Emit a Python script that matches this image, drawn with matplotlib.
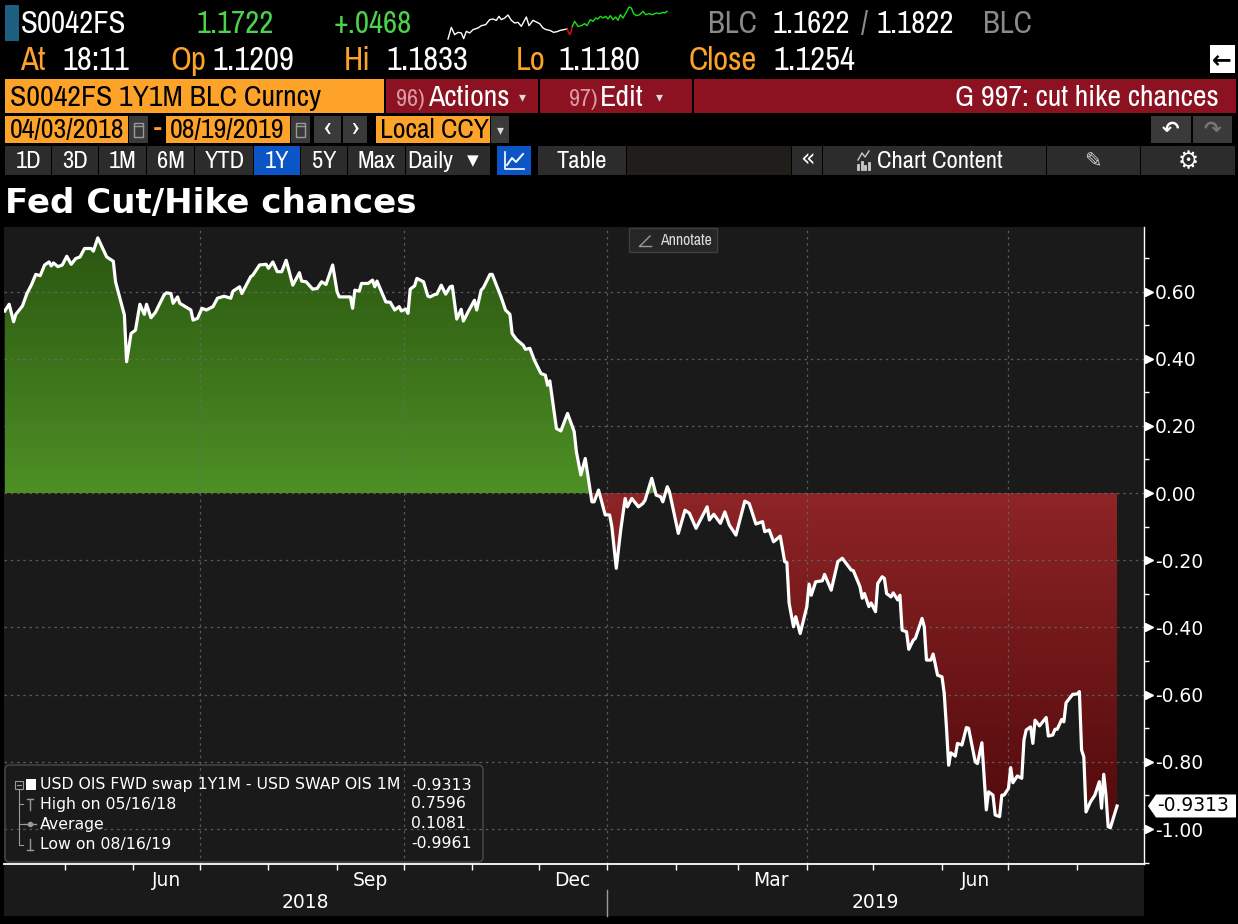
import numpy as np
import pandas as pd
import matplotlib
matplotlib.use('Agg')
import matplotlib.pyplot as plt
import matplotlib.dates as mdates
from matplotlib.patches import Rectangle, Polygon, FancyBboxPatch
from matplotlib.path import Path
from matplotlib.lines import Line2D
from matplotlib.colors import LinearSegmentedColormap
from matplotlib.ticker import MultipleLocator, FormatStrFormatter
from matplotlib.transforms import IdentityTransform, ScaledTranslation
from matplotlib import font_manager as fm

plt.rcParams['axes.unicode_minus'] = False

# ---------------- data ----------------
START = pd.Timestamp('2018-04-03')
day_offset = [1, 3, 5, 6, 9, 11, 13, 15, 17, 19, 21, 22, 23, 25, 27, 29, 31, 33, 35, 37,
              40, 41, 43, 47, 50, 51, 55, 56, 58, 60, 62, 64, 65, 67, 69, 73, 74, 76, 77, 79,
              80, 85, 86, 88, 90, 92, 95, 97, 100, 103, 104, 107, 108, 112, 113, 116, 119, 120, 122, 124,
              126, 128, 129, 131, 134, 135, 137, 140, 142, 144, 146, 149, 151, 152, 155, 157, 158, 159, 161, 162,
              165, 167, 168, 169, 173, 175, 177, 179, 180, 182, 183, 184, 186, 187, 190, 192, 193, 195, 196, 198,
              200, 202, 203, 205, 207, 208, 210, 213, 214, 216, 217, 220, 221, 225, 227, 229, 230, 232, 235, 236,
              238, 240, 243, 245, 246, 247, 250, 252, 255, 258, 259, 261, 263, 266, 267, 269, 272, 274, 275, 277,
              279, 281, 282, 284, 287, 289, 290, 293, 295, 297, 298, 300, 301, 305, 308, 310, 313, 318, 319, 321,
              324, 326, 328, 331, 335, 337, 340, 343, 344, 346, 348, 351, 353, 354, 355, 357, 358, 360, 363, 364,
              365, 367, 370, 371, 374, 377, 379, 383, 384, 387, 388, 389, 391, 392, 394, 395, 397, 398, 399, 401,
              402, 404, 405, 406, 408, 409, 411, 412, 415, 416, 417, 419, 420, 422, 424, 425, 426, 427, 428, 430,
              431, 433, 435, 436, 439, 440, 442, 444, 445, 447, 448, 450, 451, 452, 454, 455, 456, 458, 460, 461,
              462, 464, 465, 466, 468, 471, 472, 474, 475, 476, 478, 479, 480, 483, 485, 486, 487, 488, 489, 491,
              493, 495, 496, 497, 498, 499, 500, 503]
spread = [0.542, 0.562, 0.510, 0.532, 0.557, 0.594, 0.619, 0.651, 0.647, 0.679, 0.688, 0.676, 0.685, 0.674, 0.679, 0.705, 0.681, 0.698, 0.703, 0.728,
          0.728, 0.720, 0.7596, 0.703, 0.690, 0.629, 0.530, 0.391, 0.475, 0.485, 0.562, 0.532, 0.562, 0.522, 0.538, 0.591, 0.596, 0.594, 0.565, 0.584,
          0.565, 0.545, 0.515, 0.520, 0.550, 0.545, 0.555, 0.580, 0.586, 0.580, 0.601, 0.614, 0.594, 0.644, 0.649, 0.679, 0.681, 0.669, 0.688, 0.659,
          0.659, 0.693, 0.669, 0.619, 0.656, 0.631, 0.629, 0.607, 0.609, 0.629, 0.621, 0.679, 0.599, 0.584, 0.584, 0.584, 0.550, 0.604, 0.601, 0.624,
          0.624, 0.634, 0.614, 0.631, 0.569, 0.568, 0.545, 0.555, 0.542, 0.548, 0.535, 0.607, 0.617, 0.639, 0.629, 0.586, 0.584, 0.591, 0.592, 0.619,
          0.592, 0.614, 0.616, 0.518, 0.547, 0.512, 0.538, 0.574, 0.545, 0.604, 0.611, 0.651, 0.651, 0.584, 0.545, 0.532, 0.475, 0.457, 0.440, 0.428,
          0.431, 0.396, 0.356, 0.351, 0.321, 0.334, 0.192, 0.185, 0.237, 0.183, 0.123, 0.054, 0.103, -0.026, -0.026, 0.009, -0.065, -0.065, -0.100, -0.224,
          -0.110, -0.016, -0.041, -0.016, -0.041, -0.031, -0.021, 0.044, -0.006, -0.011, -0.026, 0.019, 0.004, -0.120, -0.051, -0.060, -0.105, -0.041, -0.080, -0.063,
          -0.090, -0.056, -0.095, -0.125, -0.024, -0.031, -0.092, -0.085, -0.115, -0.110, -0.145, -0.128, -0.204, -0.207, -0.328, -0.398, -0.368, -0.418, -0.338, -0.271,
          -0.304, -0.264, -0.261, -0.242, -0.289, -0.204, -0.194, -0.229, -0.231, -0.279, -0.313, -0.299, -0.338, -0.327, -0.353, -0.269, -0.249, -0.254, -0.299, -0.309,
          -0.297, -0.318, -0.304, -0.408, -0.413, -0.465, -0.438, -0.432, -0.373, -0.398, -0.497, -0.497, -0.479, -0.542, -0.547, -0.596, -0.696, -0.810, -0.773, -0.783,
          -0.745, -0.750, -0.698, -0.700, -0.800, -0.805, -0.743, -0.943, -0.889, -0.899, -0.958, -0.963, -0.899, -0.899, -0.879, -0.817, -0.862, -0.842, -0.849, -0.735,
          -0.705, -0.696, -0.745, -0.676, -0.693, -0.668, -0.723, -0.720, -0.703, -0.703, -0.674, -0.681, -0.624, -0.599, -0.598, -0.591, -0.765, -0.785, -0.949, -0.919,
          -0.899, -0.859, -0.938, -0.837, -0.899, -0.993, -0.9961, -0.9313]
average_value = 0.1081
series_name = 'USD OIS FWD swap 1Y1M - USD SWAP OIS 1M'

y_ticks = [-1.0, -0.8, -0.6, -0.4, -0.2, 0.0, 0.2, 0.4, 0.6]
month_tick_dates = ['2018-05-01', '2018-06-01', '2018-07-01', '2018-08-01', '2018-09-01', '2018-10-01',
                    '2018-11-01', '2018-12-01', '2019-01-01', '2019-02-01', '2019-03-01', '2019-04-01',
                    '2019-05-01', '2019-06-01', '2019-07-01', '2019-08-01']
quarter_grid_dates = ['2018-07-01', '2018-10-01', '2019-01-01', '2019-04-01', '2019-07-01']
month_label_dates = ['2018-06-16', '2018-09-16', '2018-12-16', '2019-03-16', '2019-06-16']
month_labels = ['Jun', 'Sep', 'Dec', 'Mar', 'Jun']
year_labels = ['2018', '2019']
year_break = '2019-01-01'
x_start, x_end = '2018-04-03 16:00', '2019-08-31 04:00'

# intraday sparkline in the header
spark_time_white = [55, 65, 75, 85, 95, 102, 110, 120, 130, 145, 155, 168, 180, 190, 200, 208, 215, 225, 235, 245,
                    255, 265, 275, 283, 290, 298, 310, 322, 330, 340, 350, 360, 372, 382, 392, 402, 412]
spark_white = [2, 37, 15, 22, 20, 3, 25, 20, 30, 35, 42, 45, 60, 62, 58, 70, 60, 65, 74, 58,
               50, 52, 40, 55, 68, 42, 58, 52, 48, 35, 30, 28, 22, 24, 28, 30, 32]
spark_time_red = [412, 420, 425, 428]
spark_red = [32, 15, 25, 40]
spark_time_green = [428, 435, 445, 455, 465, 472, 482, 490, 498, 505, 512, 520, 528, 535, 542, 550, 558, 565, 572, 580,
                    590, 598, 605, 612, 620, 630, 640, 648, 658, 668, 680, 690, 700, 705, 712]
spark_green = [40, 55, 40, 42, 48, 42, 60, 55, 65, 62, 70, 65, 70, 62, 72, 60, 68, 58, 75, 65,
               82, 98, 95, 78, 72, 75, 85, 75, 78, 75, 80, 78, 82, 80, 85]

# ---------------- fonts ----------------
W, H = 1238, 924
BASE = ['DejaVu Sans']


def find_narrow():
    best = None
    for f in fm.fontManager.ttflist:
        nm = f.name.lower()
        st = str(f.stretch).lower()
        if f.style != 'normal':
            continue
        if f.weight not in (400, 'normal', 'regular', 'book', 500):
            continue
        score = None
        if 'narrow' in nm or 'condensed' in nm:
            score = 0
        elif st in ('condensed', 'semi-condensed', 'extra-condensed'):
            score = 1
        if score is not None and 'bold' not in f.fname.lower() and 'italic' not in f.fname.lower():
            if best is None or score < best[0]:
                best = (score, f.fname)
    return best[1] if best else None


NARROW_FILE = find_narrow()


def nfp(size):
    if NARROW_FILE:
        return fm.FontProperties(fname=NARROW_FILE, size=size)
    return fm.FontProperties(family=['Liberation Sans', 'DejaVu Sans'], size=size)


ORANGE = '#fda329'
BRED = '#8c1222'
GREEN = '#4bd34b'
BTN = '#2c2c2c'
BTN2 = '#3a3a3a'

fig = plt.figure(figsize=(W / 100, H / 100), dpi=100, facecolor='black')
groups = {}


def fx(x):
    return x / W


def fy(y):
    return 1 - y / H


def pbox(x0, y0, x1, y1, fc, ec='none', lw=0, z=1):
    fig.patches.append(Rectangle((fx(x0), fy(y1)), (x1 - x0) / W, (y1 - y0) / H,
                                 transform=fig.transFigure, facecolor=fc, edgecolor=ec,
                                 linewidth=lw, zorder=z))


def ntxt(x, y, s, size, color='white', ha='left', va='baseline', width=None, group=None, z=3):
    t = fig.text(fx(x), fy(y), s, color=color, ha=ha, va=va, fontproperties=nfp(size), zorder=z)
    if group is not None:
        groups.setdefault(group, []).append((t, size, width))
    return t


def btxt(x, y, s, size, color='white', ha='left', va='baseline', weight='normal', z=3):
    return fig.text(fx(x), fy(y), s, fontsize=size, color=color, ha=ha, va=va,
                    family=BASE, fontweight=weight, zorder=z)


def pline(xs, ys, color, lw=1.0, z=3):
    fig.lines.append(Line2D([fx(x) for x in xs], [fy(y) for y in ys], transform=fig.transFigure,
                            color=color, linewidth=lw, zorder=z))


# ---------------- header ----------------
# row 1
pbox(5, 5, 19, 41, '#1c5f80')
row1 = [(21, 'S0042FS', 'white', 100), (196, '1.1722', GREEN, 87), (334, '+.0468', GREEN, 81),
        (708, 'BLC', '#8a8a8a', 40), (773, '1.1622', 'white', 81), (861, '/', '#8a8a8a', None),
        (877, '1.1822', 'white', 82), (983, 'BLC', '#8a8a8a', 42)]
for x, s, c, w in row1:
    ntxt(x, 33, s, 22, c, width=w, group='r1')

sax = fig.add_axes([fx(448), fy(39), (667 - 448) / W, (39 - 7) / H])
sax.axis('off')
sax.set_xlim(55, 712)
sax.set_ylim(2, 98)
sax.plot(spark_time_white, spark_white, color='white', lw=1.0, clip_on=False)
sax.plot(spark_time_red, spark_red, color='#e01010', lw=1.0, clip_on=False)
sax.plot(spark_time_green, spark_green, color='#19e019', lw=1.0, clip_on=False)

# row 2
row2 = [(20, 'At', ORANGE, None), (62, '18:11', 'white', 69), (170, 'Op', ORANGE, None), (212, '1.1209', 'white', 83),
        (344, 'Hi', ORANGE, None), (386, '1.1833', 'white', 81), (516, 'Lo', ORANGE, None), (558, '1.1180', 'white', 80),
        (689, 'Close', ORANGE, 69), (773, '1.1254', 'white', 83)]
for x, s, c, w in row2:
    ntxt(x, 70, s, 22, c, width=w, group='r2')
pbox(1210, 45, 1235, 73, 'white')
btxt(1222, 60, '\u2190', 17, 'black', ha='center', va='center', weight='bold')

# row 3
pbox(5, 79, 384, 113, ORANGE)
ntxt(10, 106, 'S0042FS 1Y1M BLC Curncy', 21, 'black', width=307, group='r3')
pbox(386, 79, 538, 113, BRED)
ntxt(396, 106, '96)', 17, '#d99aa4', group='r3')
ntxt(428, 106, 'Actions', 21, width=79, group='r3')
btxt(522, 97, '\u25BE', 10, '#dddddd', ha='center', va='center')
pbox(540, 79, 692, 113, BRED)
ntxt(569, 106, '97)', 17, '#d99aa4', group='r3')
ntxt(600, 106, 'Edit', 21, width=41, group='r3')
btxt(659, 97, '\u25BE', 10, '#dddddd', ha='center', va='center')
pbox(694, 79, 1236, 113, BRED)
ntxt(1219, 106, 'G 997: cut hike chances', 21, ha='right', width=273, group='r3')

# row 4
pbox(5, 116, 128, 143, ORANGE)
ntxt(10, 138, '04/03/2018', 19, 'black', width=116, group='r4')
pbox(166, 116, 290, 143, ORANGE)
ntxt(170, 138, '08/19/2019', 19, 'black', width=116, group='r4')
ntxt(157, 136, '-', 19, ORANGE, ha='center', group='r4')
for x0, x1 in [(129, 148), (291, 310)]:
    pbox(x0, 116, x1, 143, BTN2)
    pbox(x0 + 5, 123, x1 - 5, 137, 'none', ec='#9a9a9a', lw=1, z=2)
    pline([x0 + 5, x1 - 5], [126, 126], '#9a9a9a', 1)
pbox(314, 116, 341, 143, BTN2)
ntxt(327.5, 130, '\u2039', 20, 'white', ha='center', va='center')
pbox(343, 116, 367, 143, BTN2)
ntxt(355, 130, '\u203A', 20, 'white', ha='center', va='center')
pbox(376, 116, 490, 143, ORANGE)
ntxt(380, 138, 'Local CCY', 19, 'black', width=106, group='r4')
pbox(491, 116, 509, 143, BTN2)
btxt(500, 130, '\u25BE', 10, '#dddddd', ha='center', va='center')
pbox(1151, 116, 1191, 143, BTN2)
btxt(1171, 130, '\u21B6', 15, 'white', ha='center', va='center', weight='bold')
pbox(1193, 116, 1232, 143, BTN2)
btxt(1212, 130, '\u21B7', 15, '#777777', ha='center', va='center', weight='bold')

# row 5
buttons = [(5, 51, BTN), (52, 98, BTN), (99, 146, BTN), (147, 194, BTN), (195, 253, BTN),
           (254, 300, '#0b55c6'), (301, 347, BTN), (348, 405, BTN), (406, 490, BTN), (497, 531, '#0b55c6'),
           (538, 626, BTN), (627, 791, '#201e1b'), (792, 822, BTN), (823, 1046, BTN), (1047, 1140, BTN),
           (1141, 1235, BTN)]
for x0, x1, c in buttons:
    pbox(x0, 146, x1, 175, c)
row5 = [(29, '1D', None), (75, '3D', None), (123, '1M', None), (171, '6M', None), (225, 'YTD', None),
        (277, '1Y', None), (324, '5Y', None), (376, 'Max', None), (582, 'Table', 46), (940, 'Chart Content', 134)]
for xc, s, w in row5:
    ntxt(xc, 168, s, 17, ha='center', width=w, group='r5')
ntxt(430, 168, 'Daily', 17, ha='center', width=40, group='r5')
btxt(473, 161, '\u25BC', 11, 'white', ha='center', va='center')
btxt(807, 160, '\u00AB', 17, 'white', ha='center', va='center')
# chart icon in blue button
pline([505, 505, 524], [152, 169, 169], 'white', 1.2)
pline([507, 512, 516, 523], [165, 158, 162, 154], 'white', 1.4)
# chart content icon
pline([858, 862, 865, 869], [160, 153, 157, 151], '#cccccc', 1.0)
for i, hgt in enumerate([4, 7, 3, 6]):
    pline([858 + i * 3.5, 858 + i * 3.5], [169, 169 - hgt], '#cccccc', 2.0)
btxt(1093, 161, '\u270E', 15, '#cfcfcf', ha='center', va='center')
btxt(1188, 161, '\u2699', 17, 'white', ha='center', va='center')

# title
btxt(5, 213, 'Fed Cut/Hike chances', 24.5, 'white', weight='bold')

# ---------------- main chart ----------------
dates = START + pd.to_timedelta(day_offset, unit='D')
xd = mdates.date2num(dates.to_pydatetime())
v = np.array(spread)

fig.patches.append(Rectangle((fx(4), fy(916)), (1144 - 4) / W, (916 - 864) / H,
                             transform=fig.transFigure, facecolor='#1a1a1a', edgecolor='none', zorder=-1))

ax = fig.add_axes([fx(4), fy(864), (1144 - 4) / W, (864 - 227) / H])
ax.set_facecolor('#1a1a1a')
YMIN, YMAX = -1.104, 0.792
xmin = mdates.date2num(pd.Timestamp(x_start).to_pydatetime())
xmax = mdates.date2num(pd.Timestamp(x_end).to_pydatetime())

pos = ax.fill_between(xd, v, 0, where=v >= 0, interpolate=True, facecolor='none', edgecolor='none')
neg = ax.fill_between(xd, v, 0, where=v <= 0, interpolate=True, facecolor='none', edgecolor='none')


def grad_fill(coll, y0, y1, c_low, c_high):
    paths = coll.get_paths()
    if not paths:
        return
    path = Path.make_compound_path(*paths)
    grad = np.linspace(0, 1, 256).reshape(-1, 1)
    cmap = LinearSegmentedColormap.from_list('g', [c_low, c_high])
    im = ax.imshow(grad, extent=[xd[0], xd[-1], y0, y1], origin='lower', aspect='auto',
                   cmap=cmap, zorder=1, interpolation='bilinear')
    im.set_clip_path(path, transform=ax.transData)


grad_fill(pos, 0, YMAX, '#4e9025', '#29540f')
grad_fill(neg, YMIN, 0, '#4a0708', '#8e2426')

ax.plot(xd, v, color='white', lw=2.3, zorder=4, solid_joinstyle='round')

for yv in y_ticks:
    ax.axhline(yv, color='#6a6a6a', lw=0.9, ls=(0, (2, 3)), zorder=2, alpha=0.8)
for d in quarter_grid_dates:
    ax.axvline(mdates.date2num(pd.Timestamp(d).to_pydatetime()), color='#6a6a6a', lw=0.9,
               ls=(0, (2, 3)), zorder=2, alpha=0.8)

ax.set_xlim(xmin, xmax)
ax.set_ylim(YMIN, YMAX)

for s in ['left', 'top']:
    ax.spines[s].set_visible(False)
ax.spines['right'].set_color('white')
ax.spines['right'].set_linewidth(1.0)
ax.spines['bottom'].set_color('white')
ax.spines['bottom'].set_linewidth(1.3)

ax.yaxis.tick_right()
ax.set_yticks(y_ticks)
ax.yaxis.set_major_formatter(FormatStrFormatter('%.2f'))
ax.yaxis.set_minor_locator(MultipleLocator(0.1))
ax.tick_params(axis='y', which='major', length=0, pad=8, labelsize=13.5, labelcolor='white')
ax.tick_params(axis='y', which='minor', length=3.5, width=1, color='white', right=True, left=False)
for lab in ax.get_yticklabels():
    lab.set_family(BASE)

tick_tr = ax.get_yaxis_transform() + ScaledTranslation(4.5 / 100, 0, fig.dpi_scale_trans)
ax.plot([1.0] * len(y_ticks), y_ticks, ls='none', marker='>', markersize=5.5, color='white',
        transform=tick_tr, clip_on=False, zorder=5)

ax.set_xticks([mdates.date2num(pd.Timestamp(d).to_pydatetime()) for d in month_tick_dates])
ax.set_xticklabels([])
ax.set_xticks([mdates.date2num(pd.Timestamp(d).to_pydatetime()) for d in month_label_dates], minor=True)
ax.set_xticklabels(month_labels, minor=True, family=BASE)
ax.tick_params(axis='x', which='major', length=4, width=1, color='white', direction='out')
ax.tick_params(axis='x', which='minor', length=0, pad=5, labelsize=13.5, labelcolor='white')

xb = mdates.date2num(pd.Timestamp(year_break).to_pydatetime())
xtr = ax.get_xaxis_transform()
ax.text((xmin + xb) / 2, -39 / 637, year_labels[0], transform=xtr, ha='center', va='center',
        color='white', fontsize=13.5, family=BASE)
ax.text((xb + xmax) / 2, -39 / 637, year_labels[1], transform=xtr, ha='center', va='center',
        color='white', fontsize=13.5, family=BASE)
ax.plot([xb, xb], [-26 / 637, -52 / 637], color='#9a9a9a', lw=1, transform=xtr, clip_on=False)

# annotate button
pbox(629, 228, 717, 252, '#262626', ec='#3e3e3e', lw=1, z=5)
pline([640, 650], [246, 236], '#9a9a9a', 1.0, z=6)
pline([639, 651], [246, 246], '#9a9a9a', 1.0, z=6)
ntxt(660, 245, 'Annotate', 11, '#dddddd', width=52, group='ann', z=6)

# legend box
fig.patches.append(FancyBboxPatch((5, H - 862), 478, 97, boxstyle='round,pad=0,rounding_size=5',
                                  facecolor='none', edgecolor='#4a4a4a', lw=1,
                                  transform=IdentityTransform(), zorder=5))
last = v[-1]
imax = int(np.argmax(v))
imin = int(np.argmin(v))
rows = [(785, series_name, f'{last:.4f}'),
        (804, 'High on ' + dates[imax].strftime('%m/%d/%y'), f'{v[imax]:.4f}'),
        (824, 'Average', f'{average_value:.4f}'),
        (844, 'Low on ' + dates[imin].strftime('%m/%d/%y'), f'{v[imin]:.4f}')]
for yy, label, val in rows:
    btxt(40, yy, label, 11.3, 'white', va='center', z=6)
    btxt(411, yy, val, 11.3, 'white', va='center', z=6)
GRY = '#9a9a9a'
pbox(15, 781, 23, 789, 'none', ec=GRY, lw=0.8, z=6)
pline([17, 21], [785, 785], GRY, 0.8, z=6)
pbox(26, 779, 36, 790, 'white', z=6)
pline([19, 19], [789, 845], GRY, 0.8, z=6)
for yy in [804, 824, 845]:
    pline([19, 23], [yy, yy], GRY, 0.8, z=6)
pline([30, 30], [799, 810], GRY, 1.0, z=6)
pline([27, 33], [799, 799], GRY, 1.0, z=6)
pline([24, 36], [824, 824], GRY, 1.0, z=6)
fig.lines.append(Line2D([fx(30)], [fy(824)], marker='o', markersize=3, color=GRY,
                        transform=fig.transFigure, zorder=6))
pline([30, 30], [839, 850], GRY, 1.0, z=6)
pline([27, 33], [850, 850], GRY, 1.0, z=6)

# scale each header row uniformly so its texts span the widths seen in the reference
fig.canvas.draw()
rend = fig.canvas.get_renderer()
for g, items in groups.items():
    tgt = sum(w for t, s, w in items if w)
    cur = sum(t.get_window_extent(rend).width for t, s, w in items if w)
    if tgt and cur:
        r = min(1.3, max(0.6, tgt / cur))
        for t, s, w in items:
            t.set_fontsize(s * r)

# last value tag
yc = ax.transData.transform((xd[-1], last))[1]
xs_pix = ax.transAxes.transform((1.0, 0))[0]
tag = Polygon([(xs_pix + 4, yc), (xs_pix + 12, yc + 11.5), (1236, yc + 11.5), (1236, yc - 11.5),
               (xs_pix + 12, yc - 11.5)], closed=True, facecolor='white', edgecolor='none',
              transform=IdentityTransform(), zorder=6)
fig.patches.append(tag)
fig.text(fx(1157), yc / H, f'{last:.4f}', color='black', fontsize=13.5, family=BASE,
         ha='left', va='center', zorder=7)

fig.savefig('out.png', dpi=100, facecolor='black')
